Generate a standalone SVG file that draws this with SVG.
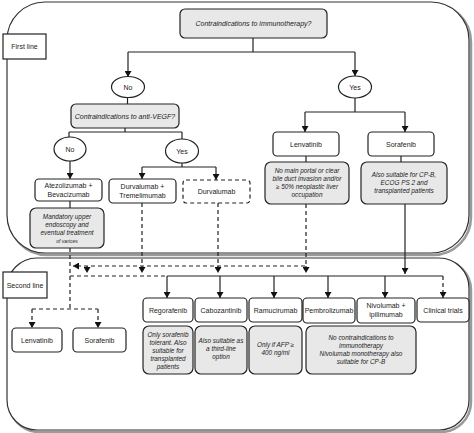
<svg xmlns="http://www.w3.org/2000/svg" width="474" height="433" viewBox="0 0 474 433">
<defs>
<marker id="ah" markerUnits="userSpaceOnUse" markerWidth="7" markerHeight="7" refX="6" refY="3.5" orient="auto">
<path d="M0,0 L6,3.5 L0,7 z" fill="#111"/>
</marker>
</defs>
<style>
text{font-family:"Liberation Sans","DejaVu Sans",sans-serif;font-size:7px;fill:#222;text-anchor:middle}
.it{font-style:italic;font-size:6.4px}
.box{fill:#fff;stroke:#222;stroke-width:1.2}
.dbox{fill:#fff;stroke:#222;stroke-width:1.2;stroke-dasharray:4 3}
.note{fill:#e8e8e8;stroke:#222;stroke-width:1.2}
.panel{fill:#fff;stroke:#333;stroke-width:1.2}
.shadow{fill:none;stroke:#9a9a9a;stroke-width:2.5}
.ln{fill:none;stroke:#222;stroke-width:1.2}
.dl{fill:none;stroke:#222;stroke-width:1.2;stroke-dasharray:4 3}
.lbl{fill:#fff;stroke:#222;stroke-width:1.2}
</style>
<rect width="474" height="433" fill="#fff"/>

<g id="panel-first">
<rect x="9" y="4" width="462" height="251" rx="38" class="shadow"/>
<rect x="7" y="2" width="462" height="251" rx="38" class="panel"/>
</g>
<g id="panel-second">
<rect x="9" y="260" width="462" height="172" rx="30" class="shadow"/>
<rect x="7" y="258" width="462" height="172" rx="30" class="panel"/>
</g>

<g id="label-first">
<rect x="3" y="34" width="43" height="25" class="lbl"/>
<text x="24.5" y="49">First line</text>
</g>
<g id="label-second">
<rect x="3" y="272" width="44" height="26" class="lbl"/>
<text x="25" y="288">Second line</text>
</g>

<g id="connectors">
<path class="ln" d="M253,38 V52 M128,52 H355"/>
<path class="ln" d="M128,52 V77" marker-end="url(#ah)"/>
<path class="ln" d="M355,52 V76" marker-end="url(#ah)"/>
<path class="ln" d="M127.5,97 V104"/>
<path class="ln" d="M125,128 V132 M69,132 H182 M69,132 V137 M182,132 V139"/>
<path class="ln" d="M70,161 V179" marker-end="url(#ah)"/>
<path class="ln" d="M182,163 V167 M142,167 H216"/>
<path class="ln" d="M142,167 V179" marker-end="url(#ah)"/>
<path class="ln" d="M216,167 V180" marker-end="url(#ah)"/>
<path class="ln" d="M70,201 V208"/>
<path class="ln" d="M355,98 V112 M305,112 H405"/>
<path class="ln" d="M305,112 V132" marker-end="url(#ah)"/>
<path class="ln" d="M405,112 V132" marker-end="url(#ah)"/>
<path class="ln" d="M306,156 V162"/>
<path class="ln" d="M401,156 V162"/>
<path class="dl" d="M306,204 V266 H73" marker-end="url(#ah)"/>
<path class="dl" d="M306,266 V273" marker-end="url(#ah)"/>
<path class="dl" d="M87,266 V273" marker-end="url(#ah)"/>
<path class="dl" d="M142,203 V273" marker-end="url(#ah)"/>
<path class="dl" d="M218,203 V273" marker-end="url(#ah)"/>
<path class="ln" d="M405,204 V274" marker-end="url(#ah)"/>
<path class="dl" d="M70,248 V309 M32,309 H98"/>
<path class="dl" d="M32,309 V328" marker-end="url(#ah)"/>
<path class="dl" d="M98,309 V328" marker-end="url(#ah)"/>
<path class="dl" d="M70,276 H167"/>
<path class="ln" d="M167,276 H443"/>
<path class="ln" d="M167,276 V298" marker-end="url(#ah)"/>
<path class="ln" d="M220,276 V298" marker-end="url(#ah)"/>
<path class="ln" d="M274,276 V298" marker-end="url(#ah)"/>
<path class="ln" d="M328,276 V298" marker-end="url(#ah)"/>
<path class="ln" d="M385,276 V298" marker-end="url(#ah)"/>
<path class="dl" d="M443,276 V298" marker-end="url(#ah)"/>
</g>

<g id="q-immuno">
<rect x="180" y="9" width="147" height="29" rx="5" class="note"/>
<text x="253.5" y="26" class="it" style="font-size:7px">Contraindications to immunotherapy?</text>
</g>
<g id="no1">
<ellipse cx="128" cy="87" rx="16.5" ry="10.5" class="box"/>
<text x="128" y="89.5">No</text>
</g>
<g id="yes1">
<ellipse cx="355" cy="87" rx="16.5" ry="11" class="box"/>
<text x="355" y="89.5">Yes</text>
</g>
<g id="q-antivegf">
<rect x="71" y="104" width="108" height="24" rx="5" class="note"/>
<text x="125" y="118.5" class="it" style="font-size:7px">Contraindications to anti-VEGF?</text>
</g>
<g id="no2">
<ellipse cx="70" cy="149" rx="16" ry="12" class="box"/>
<text x="70" y="151.5">No</text>
</g>
<g id="yes2">
<ellipse cx="182" cy="151" rx="16.5" ry="12" class="box"/>
<text x="182" y="153.5">Yes</text>
</g>
<g id="atezo">
<rect x="35" y="179" width="67" height="22" rx="4" class="box"/>
<text x="68.5" y="188">Atezolizumab +</text>
<text x="68.5" y="197">Bevacizumab</text>
</g>
<g id="durva-treme">
<rect x="109" y="179" width="67" height="24" rx="4" class="box"/>
<text x="142.5" y="189">Durvalumab +</text>
<text x="142.5" y="198">Tremelimumab</text>
</g>
<g id="durva">
<rect x="183" y="180" width="67" height="23" rx="3" class="dbox"/>
<text x="216.5" y="194">Durvalumab</text>
</g>
<g id="mandatory">
<rect x="30" y="208" width="74" height="40" rx="6" class="note"/>
<text x="67" y="219" class="it">Mandatory upper</text>
<text x="67" y="227" class="it">endoscopy and</text>
<text x="67" y="235" class="it">eventual treatment</text>
<text x="67" y="243" class="it" style="font-size:5px">of varices</text>
</g>
<g id="lenva1">
<rect x="273" y="132" width="66" height="24" rx="4" class="box"/>
<text x="306" y="146.5">Lenvatinib</text>
</g>
<g id="sora1">
<rect x="368" y="132" width="66" height="24" rx="4" class="box"/>
<text x="401" y="146.5">Sorafenib</text>
</g>
<g id="lenva1-note">
<rect x="265" y="162" width="84" height="42" rx="6" class="note"/>
<text x="307" y="173" class="it">No main portal or clear</text>
<text x="307" y="181" class="it">bile duct invasion and/or</text>
<text x="307" y="189" class="it">≥ 50% neoplastic liver</text>
<text x="307" y="197" class="it">occupation</text>
</g>
<g id="sora1-note">
<rect x="361" y="162" width="86" height="42" rx="6" class="note"/>
<text x="404" y="177" class="it">Also suitable for CP-B,</text>
<text x="404" y="185" class="it">ECOG PS 2 and</text>
<text x="404" y="193" class="it">transplanted patients</text>
</g>

<g id="lenva2">
<rect x="12" y="328" width="50" height="24" rx="4" class="box"/>
<text x="37" y="342.5">Lenvatinib</text>
</g>
<g id="sora2">
<rect x="73" y="328" width="53" height="24" rx="4" class="box"/>
<text x="99.5" y="342.5">Sorafenib</text>
</g>
<g id="rego">
<rect x="143" y="298" width="50" height="24" rx="4" class="box"/>
<text x="168" y="312.5">Regorafenib</text>
</g>
<g id="cabo">
<rect x="195" y="298" width="52" height="24" rx="4" class="box"/>
<text x="221" y="312.5">Cabozantinib</text>
</g>
<g id="ramu">
<rect x="249" y="298" width="53" height="24" rx="4" class="box"/>
<text x="275.5" y="312.5">Ramucirumab</text>
</g>
<g id="pembro">
<rect x="303" y="298" width="52" height="25" rx="4" class="box"/>
<text x="329" y="312.5">Pembrolizumab</text>
</g>
<g id="nivo-ipi">
<rect x="357" y="298" width="58" height="25" rx="4" class="box"/>
<text x="386" y="308">Nivolumab +</text>
<text x="386" y="317">ipilimumab</text>
</g>
<g id="trials">
<rect x="417" y="298" width="52" height="24" rx="4" class="box"/>
<text x="443" y="312.5">Clinical trials</text>
</g>
<g id="rego-note">
<rect x="143" y="326" width="50" height="48" rx="6" class="note"/>
<text x="168" y="337" class="it">Only sorafenib</text>
<text x="168" y="345" class="it">tolerant. Also</text>
<text x="168" y="353" class="it">suitable for</text>
<text x="168" y="361" class="it">transplanted</text>
<text x="168" y="369" class="it">patients</text>
</g>
<g id="cabo-note">
<rect x="195" y="326" width="52" height="48" rx="6" class="note"/>
<text x="221" y="343" class="it">Also suitable as</text>
<text x="221" y="351" class="it">a third-line</text>
<text x="221" y="359" class="it">option</text>
</g>
<g id="ramu-note">
<rect x="249" y="326" width="53" height="48" rx="6" class="note"/>
<text x="275.5" y="347" class="it">Only if AFP ≥</text>
<text x="275.5" y="355" class="it">400 ng/ml</text>
</g>
<g id="io-note">
<rect x="306" y="326" width="110" height="48" rx="6" class="note"/>
<text x="361" y="340" class="it">No contraindications to</text>
<text x="361" y="348" class="it">immunotherapy</text>
<text x="361" y="356" class="it">Nivolumab monotherapy also</text>
<text x="361" y="364" class="it">suitable for CP-B</text>
</g>
</svg>
